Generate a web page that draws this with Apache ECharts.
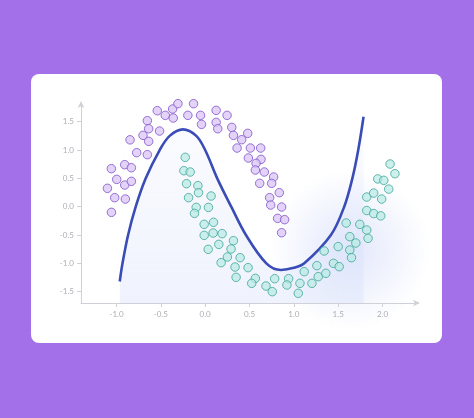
<!DOCTYPE html>
<html>
<head>
<meta charset="utf-8">
<script src="https://cdn.jsdelivr.net/npm/echarts@6/dist/echarts.min.js"></script>
<style>
html,body{margin:0;padding:0;background:#a470ea;}
#card{position:absolute;left:31px;top:74px;width:411px;height:269px;background:#fff;border-radius:8px;}
#chart{position:absolute;left:0;top:0;width:474px;height:418px;}
</style>
</head>
<body>
<div id="card"></div>
<div id="chart"></div>
<script>
const xTicks = [-1.0, -0.5, 0.0, 0.5, 1.0, 1.5, 2.0];
const yTicks = [-1.5, -1.0, -0.5, 0.0, 0.5, 1.0, 1.5];

const purplePoints = [
  [-1.102,0.324],[-1.058,0.671],[-0.997,0.482],[-1.02,0.159],[-1.057,-0.1],
  [-0.907,0.741],[-0.832,0.688],[-0.907,0.382],[-0.832,0.447],[-0.9,0.135],
  [-0.847,1.18],[-0.772,0.953],[-0.701,1.259],[-0.652,1.518],[-0.637,1.376],
  [-0.637,1.153],[-0.652,0.918],[-0.514,1.335],[-0.54,1.694],[-0.45,1.612],
  [-0.367,1.724],[-0.307,1.818],[-0.36,1.565],[-0.195,1.612],[-0.131,1.818],
  [-0.052,1.612],[-0.041,1.453],[0.124,1.7],[0.124,1.488],[0.142,1.376],
  [0.247,1.612],[0.3,1.4],[0.319,1.259],[0.412,1.182],[0.48,1.294],
  [0.36,1.035],[0.51,1.035],[0.626,1.035],[0.487,0.859],[0.63,0.835],
  [0.574,0.765],[0.566,0.647],[0.667,0.612],[0.615,0.412],[0.772,0.524],
  [0.75,0.412],[0.836,0.247],[0.727,0.159],[0.739,0.029],[0.862,-0.006],
  [0.817,-0.206],[0.896,-0.229],[0.862,-0.46]
];

const tealPoints = [
  [-0.225,0.871],[-0.24,0.635],[-0.169,0.612],[-0.21,0.406],[-0.082,0.371],
  [-0.075,0.247],[-0.187,0.159],[0.067,0.188],[-0.101,-0.012],[-0.12,-0.118],
  [0.037,-0.012],[-0.011,-0.312],[0.094,-0.276],[-0.011,-0.506],[0.09,-0.465],
  [0.034,-0.753],[0.191,-0.476],[0.154,-0.665],[0.319,-0.6],[0.292,-0.747],
  [0.18,-0.988],[0.251,-0.888],[0.394,-0.9],[0.337,-1.065],[0.349,-1.247],
  [0.484,-1.076],[0.566,-1.265],[0.525,-1.353],[0.686,-1.4],[0.784,-1.271],
  [0.757,-1.5],[0.941,-1.271],[0.922,-1.382],[1.069,-1.353],[1.05,-1.529],
  [1.117,-1.147],[1.204,-1.353],[1.26,-1.041],[1.275,-1.235],[1.361,-1.176],
  [1.342,-0.782],[1.447,-1.0],[1.511,-1.059],[1.5,-0.705],[1.59,-0.288],
  [1.631,-0.529],[1.631,-0.765],[1.65,-0.9],[1.699,-0.641],[1.744,-0.312],
  [1.822,-0.412],[1.837,-0.559],[1.822,-0.068],[1.9,-0.122],[1.98,-0.162],
  [1.822,0.17],[1.9,0.24],[1.99,0.135],[1.946,0.49],[2.014,0.465],
  [2.07,0.31],[2.085,0.753],[2.14,0.582]
];

const curvePoints = [
  [-0.963,-1.32],[-0.932,-1.0],[-0.869,-0.5],[-0.783,0.0],[-0.67,0.5],
  [-0.513,1.0],[-0.4,1.25],[-0.25,1.365],[-0.1,1.25],[0.0,1.0],
  [0.136,0.5],[0.294,0.0],[0.46,-0.5],[0.69,-1.0],[0.856,-1.117],
  [1.0,-1.08],[1.118,-1.0],[1.418,-0.5],[1.568,0.0],[1.66,0.5],
  [1.726,1.0],[1.786,1.587]
];

const axisColor = '#cfd0d8';
const labelColor = '#adadb6';
const fontFam = 'Lato, "Noto Sans", sans-serif';

const chart = echarts.init(document.getElementById('chart'), null, {renderer:'canvas'});
chart.setOption({
  backgroundColor: 'transparent',
  animation: false,
  graphic: [{
    type: 'circle',
    z: -10,
    shape: {cx: 350, cy: 250, r: 80},
    style: {
      fill: new echarts.graphic.RadialGradient(0.5, 0.5, 0.5, [
        {offset: 0, color: 'rgba(218,225,250,0.8)'},
        {offset: 1, color: 'rgba(218,225,250,0)'}
      ])
    },
    silent: true
  }],
  grid: {left: 81, right: 56, top: 103, bottom: 115},
  xAxis: {
    type: 'value', min: -1.4, max: 2.4,
    axisLine: {show: true, onZero: false, lineStyle: {color: axisColor, width: 1}, symbol: ['none','arrow'], symbolSize: [5,7], symbolOffset: [0, 2]},
    axisTick: {show: true, customValues: xTicks, length: 4, lineStyle: {color: axisColor}},
    axisLabel: {customValues: xTicks, color: labelColor, fontSize: 8, fontFamily: fontFam, margin: 7,
      formatter: v => v.toFixed(1)},
    splitLine: {show: false}
  },
  yAxis: {
    type: 'value', min: -1.7, max: 1.83,
    axisLine: {show: true, onZero: false, lineStyle: {color: axisColor, width: 1}, symbol: ['none','arrow'], symbolSize: [5,7], symbolOffset: [0, 2]},
    axisTick: {show: true, customValues: yTicks, length: 4, lineStyle: {color: axisColor}},
    axisLabel: {customValues: yTicks, color: labelColor, fontSize: 8, fontFamily: fontFam, margin: 7,
      formatter: v => v.toFixed(1)},
    splitLine: {show: false}
  },
  series: [
    {
      type: 'line',
      data: curvePoints,
      smooth: 0.35,
      showSymbol: false,
      z: 2,
      lineStyle: {color: '#3a4db7', width: 2.6},
      areaStyle: {
        origin: 'start',
        color: new echarts.graphic.LinearGradient(0, 0, 0, 1, [
          {offset: 0, color: 'rgba(222,229,252,0.2)'},
          {offset: 1, color: 'rgba(210,220,250,0.5)'}
        ])
      }
    },
    {
      type: 'scatter',
      data: purplePoints,
      symbolSize: 8.5,
      z: 3,
      itemStyle: {color: '#dcc8f6', borderColor: '#8052c8', borderWidth: 1}
    },
    {
      type: 'scatter',
      data: tealPoints,
      symbolSize: 8.5,
      z: 3,
      itemStyle: {color: 'rgba(185,234,229,0.9)', borderColor: '#3ea597', borderWidth: 1}
    }
  ]
});
</script>
</body>
</html>
